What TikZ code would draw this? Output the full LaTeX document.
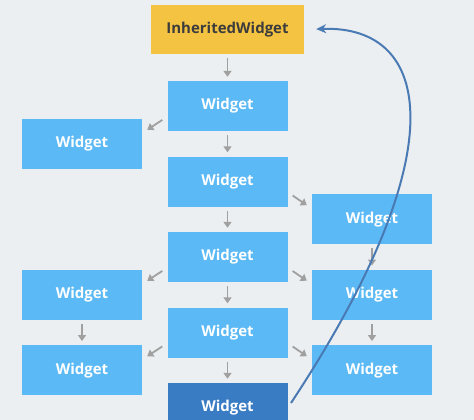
\documentclass[tikz,border=0pt]{standalone}
\usepackage{fontspec}
\setmainfont{Open Sans}
\usepackage{tikz}
\usetikzlibrary{arrows.meta,positioning,calc}
\definecolor{bggray}{RGB}{236,239,241}
\definecolor{widgetblue}{RGB}{91,185,245}
\definecolor{widgetdark}{RGB}{58,124,196}
\definecolor{inhyellow}{RGB}{245,195,66}
\definecolor{arrowgray}{RGB}{160,160,160}
\definecolor{curveblue}{RGB}{74,122,180}
\definecolor{textdark}{RGB}{60,60,60}

\begin{document}
\begin{tikzpicture}[x=1pt, y=-1pt,
    box/.style={fill=widgetblue, minimum width=120pt, minimum height=50pt, font=\fontsize{15}{18}\selectfont\bfseries, text=white, inner sep=0pt},
    arrow/.style={-{Triangle[length=6pt,width=8pt]}, line width=1.8pt, draw=arrowgray, shorten <=4pt, shorten >=4pt},
    sidearrow/.style={arrow, shorten <=6pt, shorten >=6pt},
    returnarrow/.style={-{Stealth[length=10pt,width=9pt]}, line width=2pt, draw=curveblue}
]
\fill[bggray] (0,0) rectangle (474,420);
\clip (0,0) rectangle (474,420);

\node[box, fill=inhyellow, text=textdark, minimum width=153pt, minimum height=49pt] (inh) at (227.5,29.5) {InheritedWidget};

\node[box] (c1) at (227.5,106) {Widget};
\node[box] (c2) at (227.5,181.5) {Widget};
\node[box] (c3) at (227.5,257) {Widget};
\node[box] (c4) at (227.5,332.5) {Widget};
\node[box, fill=widgetdark] (c5) at (227.5,408) {Widget};

\node[box] (l1) at (82,143.75) {Widget};
\node[box] (l2) at (82,294.75) {Widget};
\node[box] (l3) at (82,370.25) {Widget};

\node[box] (r1) at (372,219.25) {Widget};
\node[box] (r2) at (372,294.75) {Widget};
\node[box] (r3) at (372,370.25) {Widget};

\draw[arrow] (inh) -- (c1);
\draw[arrow] (c1) -- (c2);
\draw[arrow] (c2) -- (c3);
\draw[arrow] (c3) -- (c4);
\draw[arrow] (c4) -- (c5);
\draw[arrow] (l2) -- (l3);
\draw[arrow] (r1) -- (r2);
\draw[arrow] (r2) -- (r3);

\draw[sidearrow] (c1.190) -- (l1.10);
\draw[sidearrow] (c2.-10) -- (r1.170);
\draw[sidearrow] (c3.190) -- (l2.10);
\draw[sidearrow] (c3.-10) -- (r2.170);
\draw[sidearrow] (c4.190) -- (l3.10);
\draw[sidearrow] (c4.-10) -- (r3.170);

\draw[returnarrow, shorten <=6pt, shorten >=12pt] (c5.east) .. controls (458,150) and (432,25) .. (inh.east);
\end{tikzpicture}
\end{document}
